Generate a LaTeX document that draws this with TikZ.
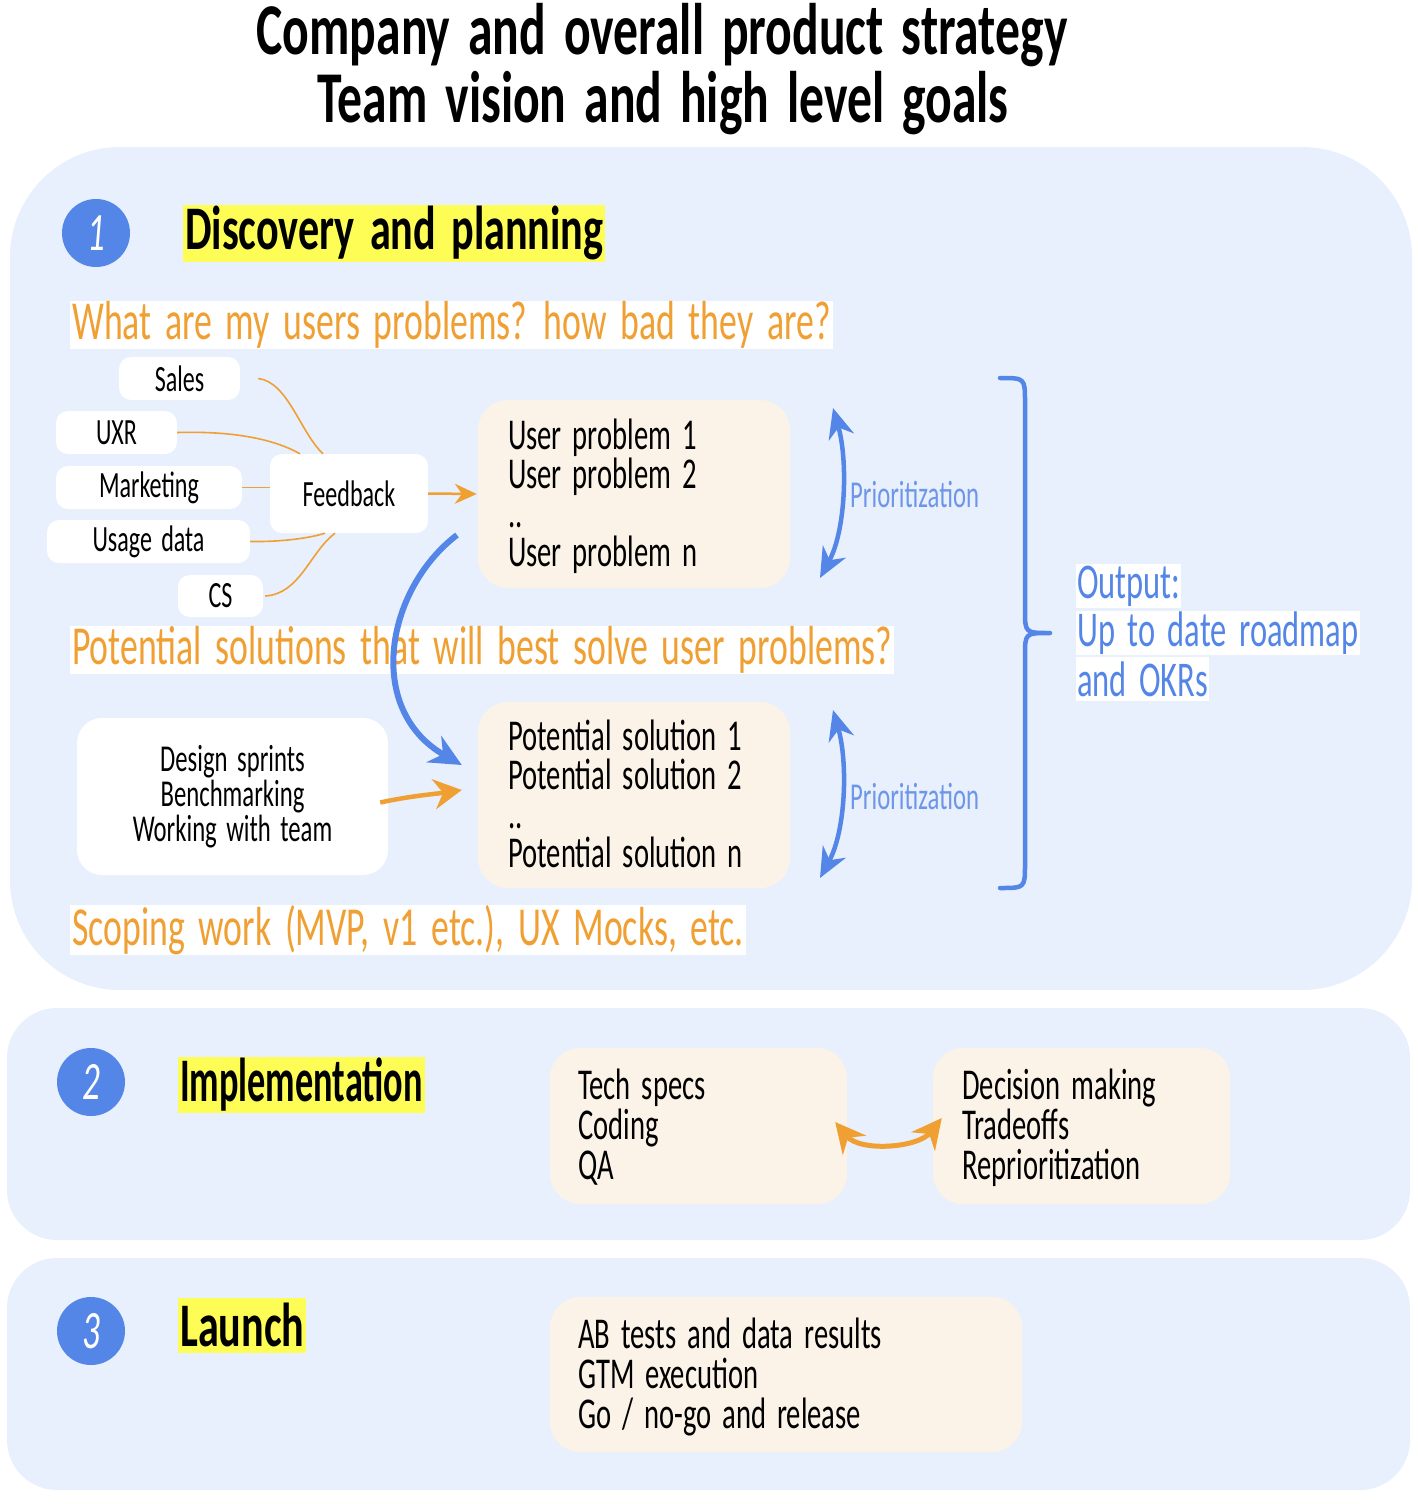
\documentclass[tikz,border=0pt]{standalone}
\usepackage{fontspec}
\setmainfont{Carlito}[FakeStretch=0.65,WordSpace=1.7]
\newfontfamily\headf{Carlito}[FakeStretch=0.68,WordSpace=1.6]
\usetikzlibrary{arrows.meta}
\definecolor{secblue}{HTML}{E8F0FD}
\definecolor{cream}{HTML}{FBF2E8}
\definecolor{numblue}{HTML}{5486E8}
\definecolor{qorange}{HTML}{F0A033}
\definecolor{hlyellow}{HTML}{FDFD55}
\definecolor{prio}{HTML}{6D95E8}
\newcommand{\fsz}[2]{\fontsize{#1}{#2}\selectfont}
\begin{document}
\begin{tikzpicture}[x=1pt,y=-1pt,
  every node/.append style={execute at begin node={\lineskiplimit=-1000pt}},
  secbg/.style={fill=secblue,draw=none},
  creambox/.style={fill=cream,rounded corners=30pt,draw=none,inner sep=0},
  wbox/.style={fill=white,rounded corners=12pt,draw=none,inner sep=0,font=\fsz{37}{35}},
  numc/.style={circle,fill=numblue,text=white,minimum size=68pt,inner sep=0,font=\fsz{54}{54}\itshape},
  hl/.style={fill=hlyellow,inner xsep=2pt,inner ysep=0pt,anchor=west,font=\headf\bfseries\fsz{62}{62}},
  oq/.style={fill=white,text=qorange,inner xsep=2pt,inner ysep=0pt,minimum height=45pt,anchor=west,font=\fsz{55}{55}},
  boxtext/.style={anchor=north west,inner sep=0,align=left,font=\fsz{44}{39}},
  priolab/.style={text=prio,anchor=west,inner sep=0,font=\fsz{38}{38}},
  outl/.style={fill=white,text=numblue,anchor=west,inner xsep=1pt,inner ysep=0pt,minimum height=44pt,font=\fsz{50}{50}},
  oline/.style={draw=qorange,line width=1.6pt},
  barrow/.style={draw=numblue,line width=6pt,-{Stealth[length=32pt,width=30pt]}},
  prioarrow/.style={draw=numblue,line width=4.5pt,{Stealth[length=30pt,width=26pt]}-{Stealth[length=30pt,width=26pt]}},
  oarrow/.style={draw=qorange,line width=4.5pt,-{Stealth[length=28pt,width=30pt]}},
]
\useasboundingbox (0,0) rectangle (1418,1504);
\fill[white] (0,0) rectangle (1418,1504);

% title
\node[anchor=base,inner sep=0,font=\headf\bfseries\fsz{73}{73}] (t1) at (662,55) {Company and overall product strategy};
\node[anchor=base,inner sep=0,font=\headf\bfseries\fsz{73}{73}] (t2) at (663,122) {Team vision and high level goals};

% sections
\fill[secbg,rounded corners=110pt] (10,147) rectangle (1412,990);
\fill[secbg,rounded corners=50pt] (7,1008) rectangle (1410,1240);
\fill[secbg,rounded corners=50pt] (7,1258) rectangle (1410,1490);

% section 1
\node[numc] (n1) at (96,233) {1};
\node[hl,minimum height=57pt] (h1) at (183,233) {Discovery and planning};
\node[oq] (q1) at (70,325) {What are my users problems? how bad they are?};

\node[wbox,minimum width=121pt,minimum height=43pt] (sales) at (179.5,378.5) {Sales};
\node[wbox,minimum width=121pt,minimum height=43pt] (uxr) at (116.5,432.5) {UXR};
\node[wbox,minimum width=186pt,minimum height=43pt] (mkt) at (149,487.5) {Marketing};
\node[wbox,minimum width=203pt,minimum height=43pt] (usage) at (148.5,541.5) {Usage data};
\node[wbox,minimum width=85pt,minimum height=42pt] (cs) at (220.5,596) {CS};
\node[wbox,minimum width=158pt,minimum height=79pt] (fb) at (349,493.5) {Feedback};

\draw[oline] ([xshift=18pt]sales.east) .. controls (288,382) and (300,432) .. ([xshift=-26pt]fb.north);
\draw[oline] (uxr.east) .. controls (230,431) and (272,438) .. ([xshift=-49pt]fb.north);
\draw[oline] (mkt.east) -- (mkt.east -| fb.west);
\draw[oline] (usage.east) .. controls (282,542) and (310,538) .. ([xshift=-24pt]fb.south);
\draw[oline] ([xshift=2pt]cs.east) .. controls (300,594) and (310,552) .. ([xshift=-14pt]fb.south);

\node[creambox,minimum width=312pt,minimum height=188pt] (up) at (634,494) {};
\node[boxtext] (upt) at (508,419) {User problem 1\\User problem 2\\..\\User problem n};
\draw[draw=qorange,line width=2.5pt,-{Stealth[length=22pt,width=20pt]}] (fb.east) -- ([xshift=-1pt]up.west);

\draw[prioarrow] (833,408) .. controls (848,460) and (846,530) .. (820,578);
\node[priolab] (p1) at (850,494) {Prioritization};

\node[oq] (q2) at (70,650) {Potential solutions that will best solve user problems?};

\coordinate (bs) at (457,535);

\node[wbox,rounded corners=25pt,minimum width=311pt,minimum height=157pt,align=center,font=\fsz{38}{35}] (ds) at (232.5,796.5) {Design sprints\\Benchmarking\\Working with team};

\node[creambox,minimum width=312pt,minimum height=186pt] (ps) at (634,795) {};
\node[boxtext] (pst) at (508,720) {Potential solution 1\\Potential solution 2\\..\\Potential solution n};
\draw[barrow] (bs) .. controls (385,590) and (365,710) .. ([xshift=-16pt,yshift=30pt]ps.west);
\draw[oarrow] ([xshift=-8pt,yshift=-6pt]ds.east) .. controls (410,796) and (435,794) .. ([xshift=-16pt,yshift=5pt]ps.west);

\draw[prioarrow] (833,710) .. controls (848,762) and (846,830) .. (820,878);
\node[priolab] (p2) at (850,796) {Prioritization};

\node[oq] (q3) at (70,930) {Scoping work (MVP, v1 etc.), UX Mocks, etc.};

% brace
\draw[numblue,line width=4.5pt,line cap=round,line join=round] (1000,378) .. controls (1025,378) .. (1025,402) -- (1025,610) .. controls (1025,633) .. (1050,633) .. controls (1025,633) .. (1025,656) -- (1025,864) .. controls (1025,888) .. (1000,888);
\node[outl] (o1) at (1076,586) {Output:};
\node[outl] (o2) at (1076,633) {Up to date roadmap};
\node[outl] (o3) at (1076,679) {and OKRs};

% section 2
\node[numc] (n2) at (91,1082) {2};
\node[hl,minimum height=56pt] (h2) at (178,1085) {\scalebox{0.86}[1]{Implementation}};
\node[creambox,minimum width=297pt,minimum height=156pt] (ts) at (698.5,1126) {};
\node[boxtext,font=\fsz{44}{40}] (tst) at (578,1069) {Tech specs\\Coding\\QA};
\node[creambox,minimum width=297pt,minimum height=156pt] (dm) at (1081.5,1126) {};
\node[boxtext,font=\fsz{44}{40}] (dmt) at (962,1069) {Decision making\\Tradeoffs\\Reprioritization};
\draw[draw=qorange,line width=5pt,{Stealth[length=30pt,width=30pt]}-{Stealth[length=30pt,width=30pt]}] ([xshift=-12pt,yshift=4pt]ts.east) .. controls (860,1152) and (918,1148) .. ([xshift=9pt,yshift=8pt]dm.west);

% section 3
\node[numc] (n3) at (91,1331) {3};
\node[hl,minimum height=55pt] (h3) at (178,1325) {Launch};
\node[creambox,minimum width=472pt,minimum height=155pt] (ab) at (786,1374.5) {};
\node[boxtext,font=\fsz{44}{40}] (abt) at (578,1318) {AB tests and data results\\GTM execution\\Go / no-go and release};
\end{tikzpicture}
\end{document}
